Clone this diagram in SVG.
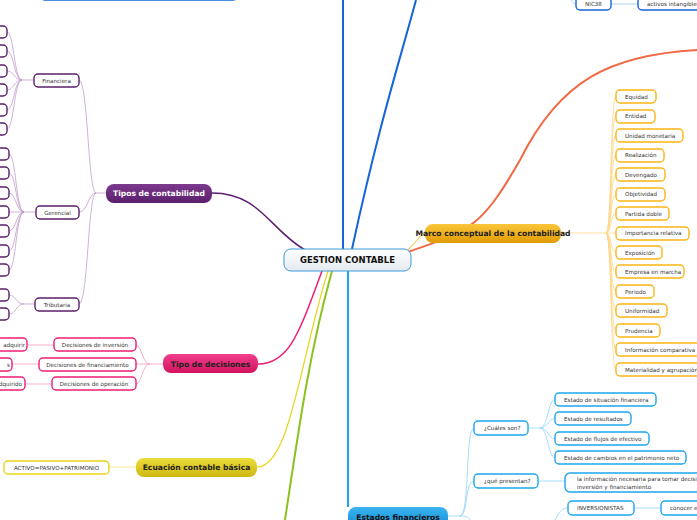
<svg xmlns="http://www.w3.org/2000/svg" width="697" height="520" viewBox="0 0 697 520">
<defs>
<linearGradient id="gGold" x1="0" y1="0" x2="0" y2="1"><stop offset="0" stop-color="#fbc63a"/><stop offset="1" stop-color="#e09b06"/></linearGradient>
<linearGradient id="gPur" x1="0" y1="0" x2="0" y2="1"><stop offset="0" stop-color="#7d3a8e"/><stop offset="1" stop-color="#5a1f6c"/></linearGradient>
<linearGradient id="gPink" x1="0" y1="0" x2="0" y2="1"><stop offset="0" stop-color="#f23f8c"/><stop offset="1" stop-color="#d2135f"/></linearGradient>
<linearGradient id="gYel" x1="0" y1="0" x2="0" y2="1"><stop offset="0" stop-color="#ecdc3a"/><stop offset="1" stop-color="#cdb811"/></linearGradient>
<linearGradient id="gBlue" x1="0" y1="0" x2="0" y2="1"><stop offset="0" stop-color="#3ab3ef"/><stop offset="1" stop-color="#1790d6"/></linearGradient>
<linearGradient id="gCen" x1="0" y1="0" x2="0" y2="1"><stop offset="0" stop-color="#ffffff"/><stop offset="1" stop-color="#e4eaf0"/></linearGradient>
</defs>
<style>
text{font-family:"DejaVu Sans",Verdana,sans-serif;font-size:5.6px;fill:#333;dominant-baseline:central}
.big{font-size:7.6px;font-weight:bold;text-anchor:middle}
.w{fill:#fff}
.leaf{fill:#fff;stroke-width:1.4}
.o{stroke:#fbb515}.b{stroke:#1ea6ec}.p{stroke:#5b1f6c}.k{stroke:#ee1d74}.y{stroke:#e9d419}.db{stroke:#1565d8}
path{fill:none}
</style>
<g id="connectors">
<path d="M343 0 V249" stroke="#1565d8" stroke-width="2"/>
<path d="M352 249 C380 120 400 60 416 0" stroke="#1565d8" stroke-width="2"/>
<path d="M405 253 C470 230 480 230 520 160 C560 80 610 55 697 50" stroke="#f26a45" stroke-width="2"/>
<path d="M405 252 C420 240 420 233 425 233" stroke="#fbb515" stroke-width="1"/>
<path d="M348 271 V507" stroke="#1ea6ec" stroke-width="2"/>
<path d="M212 193 C260 193 270 230 305 250" stroke="#5b1f6c" stroke-width="1.5"/>
<path d="M322 271 C300 330 290 364 258 364" stroke="#ee1d74" stroke-width="1.5"/>
<path d="M328 271 C300 360 290 467 257 467" stroke="#e9d419" stroke-width="1.2"/>
<path d="M332 271 C310 350 300 420 285 520" stroke="#8cc21f" stroke-width="2"/>
<g stroke="#fcd78a" stroke-width="0.8">
<path d="M561 233 H606"/>
<path d="M606 233 C612 233 610 96.5 616 96.5 M606 233 C612 233 610 116 616 116 M606 233 C612 233 610 135.5 616 135.5 M606 233 C612 233 610 155 616 155 M606 233 C612 233 610 174.5 616 174.5 M606 233 C612 233 610 194 616 194 M606 233 C612 233 610 213.5 616 213.5 M606 233 C612 233 610 233 616 233 M606 233 C612 233 610 252.5 616 252.5 M606 233 C612 233 610 272 616 272 M606 233 C612 233 610 291.5 616 291.5 M606 233 C612 233 610 311 616 311 M606 233 C612 233 610 330.5 616 330.5 M606 233 C612 233 610 350 616 350 M606 233 C612 233 610 369.5 616 369.5"/>
</g>
<g stroke="#8fd3f6" stroke-width="0.8">
<path d="M448 516 H460 C470 516 465 428 474 428 M460 516 C468 516 465 481 474 481 M460 516 C470 516 470 520 470 520"/>
<path d="M528 428 H540 C548 428 548 399.5 555 399.5 M540 428 C548 428 548 418.5 555 418.5 M540 428 C548 428 548 438.5 555 438.5 M540 428 C548 428 548 457.5 555 457.5"/>
<path d="M538 481 H565 M634 508 H661 M568 508 C560 508 558 515 555 520"/>
</g>
<path d="M611 4 H638 M576 4 C572 4 572 0 570 -2" stroke="#9cc3f0" stroke-width="0.8"/>
<g stroke="#b98fc6" stroke-width="0.7">
<path d="M106 193 H96 C88 193 88 80 79 80 M96 193 C88 193 88 212 79 212 M96 193 C88 193 88 304 79 304"/>
<path d="M34 80 H22 C14 80 14 32 7 32 M22 80 C14 80 14 51 7 51 M22 80 C14 80 14 71 7 71 M22 80 C14 80 14 90 7 90 M22 80 C14 80 14 110 7 110 M22 80 C14 80 14 129 7 129"/>
<path d="M36 212 H24 C16 212 16 154 9 154 M24 212 C16 212 16 173 9 173 M24 212 C16 212 16 193 9 193 M24 212 C16 212 16 212 9 212 M24 212 C16 212 16 231 9 231 M24 212 C16 212 16 251 9 251 M24 212 C16 212 16 270 9 270"/>
<path d="M35 304 H24 C16 304 16 295 9 295 M24 304 C16 304 16 314 9 314"/>
</g>
<g stroke="#f79cc3" stroke-width="0.8">
<path d="M163 364 H150 C142 364 142 345 136 345 M150 364 H136 M150 364 C142 364 142 384 136 384"/>
<path d="M27 345 H54 M12 364 H39 M25 384 H52"/>
</g>
<path d="M109 467 H136" stroke="#f2e67a" stroke-width="0.8"/>
</g>
<g id="top-node"><rect x="40" y="-10" width="198" height="10" rx="5" fill="#fff" stroke="#1565d8" stroke-width="1.5"/></g>
<g id="nic38"><rect x="576" y="-3" width="35" height="13" rx="4" class="leaf db"/><text x="593.5" y="4" text-anchor="middle">NIC38</text></g>
<g id="intangibles"><rect x="638" y="-3" width="70" height="13" rx="4" class="leaf db"/><text x="647" y="4">activos intangibles</text></g>
<g id="central"><rect x="284" y="249" width="127" height="22" rx="7" fill="url(#gCen)" stroke="#3b9ad9" stroke-width="1"/><text x="347.5" y="260" class="big" style="font-size:8.5px;fill:#111">GESTION CONTABLE</text></g>
<g id="marco"><rect x="425" y="224" width="136" height="19" rx="8" fill="url(#gGold)"/><text x="493" y="233.5" class="big" style="fill:#222">Marco conceptual de la contabilidad</text></g>
<g id="marco-children">
<g><rect x="616" y="90" width="40" height="13" rx="4" class="leaf o"/><text x="625" y="96.5">Equidad</text></g>
<g><rect x="616" y="110" width="39" height="13" rx="4" class="leaf o"/><text x="625" y="116">Entidad</text></g>
<g><rect x="616" y="129" width="67" height="13" rx="4" class="leaf o"/><text x="625" y="135.5">Unidad monetaria</text></g>
<g><rect x="616" y="149" width="48" height="13" rx="4" class="leaf o"/><text x="625" y="155">Realización</text></g>
<g><rect x="616" y="168" width="49" height="13" rx="4" class="leaf o"/><text x="625" y="174.5">Devengado</text></g>
<g><rect x="616" y="188" width="49" height="13" rx="4" class="leaf o"/><text x="625" y="194">Objetividad</text></g>
<g><rect x="616" y="207" width="53" height="13" rx="4" class="leaf o"/><text x="625" y="213.5">Partida doble</text></g>
<g><rect x="616" y="227" width="73" height="13" rx="4" class="leaf o"/><text x="625" y="233">Importancia relativa</text></g>
<g><rect x="616" y="246" width="46" height="13" rx="4" class="leaf o"/><text x="625" y="252.5">Exposición</text></g>
<g><rect x="616" y="265" width="68" height="13" rx="4" class="leaf o"/><text x="625" y="272">Empresa en marcha</text></g>
<g><rect x="616" y="285" width="38" height="13" rx="4" class="leaf o"/><text x="625" y="291.5">Periodo</text></g>
<g><rect x="616" y="304" width="51" height="13" rx="4" class="leaf o"/><text x="625" y="311">Uniformidad</text></g>
<g><rect x="616" y="324" width="44" height="13" rx="4" class="leaf o"/><text x="625" y="330.5">Prudencia</text></g>
<g><rect x="616" y="343" width="90" height="13" rx="4" class="leaf o"/><text x="625" y="350">Información comparativa</text></g>
<g><rect x="616" y="363" width="90" height="13" rx="4" class="leaf o"/><text x="625" y="369.5">Materialidad y agrupación</text></g>
</g>
<g id="estados"><rect x="348" y="507" width="100" height="20" rx="8" fill="url(#gBlue)"/><text x="398" y="517" class="big" style="fill:#111">Estados financieros</text></g>
<g id="cuales"><rect x="474" y="421" width="54" height="14" rx="4" class="leaf b"/><text x="484" y="428">¿Cuáles son?</text></g>
<g id="estados-list">
<g><rect x="555" y="393" width="101" height="13" rx="4" class="leaf b"/><text x="564" y="399.5">Estado de situación financiera</text></g>
<g><rect x="555" y="412" width="76" height="13" rx="4" class="leaf b"/><text x="564" y="418.5">Estado de resultados</text></g>
<g><rect x="555" y="432" width="94" height="13" rx="4" class="leaf b"/><text x="564" y="438.5">Estado de flujos de efectivo</text></g>
<g><rect x="555" y="451" width="131" height="13" rx="4" class="leaf b"/><text x="564" y="457.5">Estado de cambios en el patrimonio neto</text></g>
</g>
<g id="presentan"><rect x="474" y="474" width="64" height="14" rx="4" class="leaf b"/><text x="484" y="481">¿qué presentan?</text></g>
<g id="informacion"><rect x="565" y="473" width="150" height="19" rx="5" class="leaf b"/><text x="577" y="479">la información necesaria para tomar decisiones de</text><text x="577" y="487">inversión y financiamiento</text></g>
<g id="inversionistas"><rect x="568" y="501" width="66" height="14" rx="4" class="leaf b"/><text x="577" y="508">INVERSIONISTAS</text></g>
<g id="conocer"><rect x="661" y="501" width="60" height="14" rx="4" class="leaf b"/><text x="670" y="508">conocer el</text></g>
<g id="tipos"><rect x="106" y="184" width="106" height="19" rx="8" fill="url(#gPur)"/><text x="159" y="193.5" class="big w">Tipos de contabilidad</text></g>
<g id="financiera"><rect x="34" y="74" width="45" height="13" rx="4" class="leaf p"/><text x="56.5" y="80.5" text-anchor="middle">Financiera</text></g>
<g id="gerencial"><rect x="36" y="206" width="43" height="13" rx="4" class="leaf p"/><text x="57.5" y="212.5" text-anchor="middle">Gerencial</text></g>
<g id="tributaria"><rect x="35" y="298" width="44" height="13" rx="4" class="leaf p"/><text x="57" y="304.5" text-anchor="middle">Tributaria</text></g>
<g id="purple-leaves">
<rect x="-20" y="26" width="27" height="12" rx="4" class="leaf p"/><rect x="-20" y="45" width="27" height="12" rx="4" class="leaf p"/><rect x="-20" y="65" width="27" height="12" rx="4" class="leaf p"/><rect x="-20" y="84" width="27" height="12" rx="4" class="leaf p"/><rect x="-20" y="104" width="27" height="12" rx="4" class="leaf p"/><rect x="-20" y="123" width="27" height="12" rx="4" class="leaf p"/>
<rect x="-20" y="148" width="29" height="12" rx="4" class="leaf p"/><rect x="-20" y="167" width="29" height="12" rx="4" class="leaf p"/><rect x="-20" y="187" width="29" height="12" rx="4" class="leaf p"/><rect x="-20" y="206" width="29" height="12" rx="4" class="leaf p"/><rect x="-20" y="225" width="29" height="12" rx="4" class="leaf p"/><rect x="-20" y="245" width="29" height="12" rx="4" class="leaf p"/><rect x="-20" y="264" width="29" height="12" rx="4" class="leaf p"/>
<rect x="-20" y="289" width="29" height="12" rx="4" class="leaf p"/><rect x="-20" y="308" width="29" height="12" rx="4" class="leaf p"/>
</g>
<g id="decisiones"><rect x="163" y="354" width="95" height="19" rx="8" fill="url(#gPink)"/><text x="210.5" y="364" class="big" style="fill:#222">Tipo de decisiones</text></g>
<g id="dec-inv"><rect x="54" y="338" width="82" height="13" rx="4" class="leaf k"/><text x="95" y="344.5" text-anchor="middle">Decisiones de inversión</text></g>
<g id="dec-fin"><rect x="39" y="358" width="97" height="13" rx="4" class="leaf k"/><text x="87.5" y="364.5" text-anchor="middle">Decisiones de financiamiento</text></g>
<g id="dec-op"><rect x="52" y="377" width="84" height="13" rx="4" class="leaf k"/><text x="94" y="383.5" text-anchor="middle">Decisiones de operación</text></g>
<g id="pink-leaves">
<g><rect x="-40" y="338" width="67" height="13" rx="4" class="leaf k"/><text x="25" y="344.5" text-anchor="end">adquirir</text></g>
<g><rect x="-40" y="358" width="52" height="13" rx="4" class="leaf k"/><text x="10" y="364.5" text-anchor="end">s</text></g>
<g><rect x="-40" y="377" width="65" height="13" rx="4" class="leaf k"/><text x="22" y="383.5" text-anchor="end">adquirido</text></g>
</g>
<g id="ecuacion"><rect x="136" y="458" width="121" height="19" rx="8" fill="url(#gYel)"/><text x="196.5" y="467.5" class="big" style="fill:#222">Ecuación contable básica</text></g>
<g id="activo"><rect x="4" y="461" width="105" height="13" rx="4" class="leaf" style="stroke:#e9d419"/><text x="56.5" y="467.5" text-anchor="middle">ACTIVO=PASIVO+PATRIMONIO</text></g>
</svg>
